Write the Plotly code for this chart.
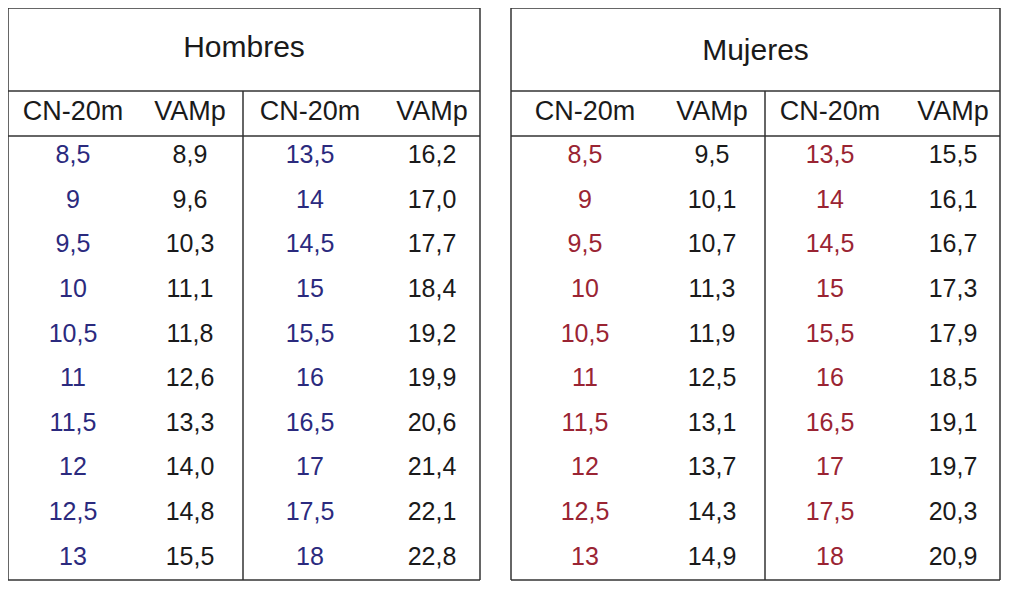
import plotly.graph_objects as go

FONT = "Liberation Sans, Arial, sans-serif"
BLUE = "#2b2a7e"
RED = "#9a2433"
INK = "#1a1a1a"

groups = ["Hombres", "Mujeres"]
col_labels = ["CN-20m", "VAMp", "CN-20m", "VAMp"]

cn_low = ["8,5", "9", "9,5", "10", "10,5", "11", "11,5", "12", "12,5", "13"]
cn_high = ["13,5", "14", "14,5", "15", "15,5", "16", "16,5", "17", "17,5", "18"]

hombres_vamp_low = ["8,9", "9,6", "10,3", "11,1", "11,8", "12,6", "13,3", "14,0", "14,8", "15,5"]
hombres_vamp_high = ["16,2", "17,0", "17,7", "18,4", "19,2", "19,9", "20,6", "21,4", "22,1", "22,8"]
mujeres_vamp_low = ["9,5", "10,1", "10,7", "11,3", "11,9", "12,5", "13,1", "13,7", "14,3", "14,9"]
mujeres_vamp_high = ["15,5", "16,1", "16,7", "17,3", "17,9", "18,5", "19,1", "19,7", "20,3", "20,9"]

# table geometry (pixel-like coordinates)
tables = [
    dict(name=groups[0], left=8, right=480, mid=243, cols=[73, 190, 310, 432], cn=BLUE,
         data=[cn_low, hombres_vamp_low, cn_high, hombres_vamp_high], title_y=49),
    dict(name=groups[1], left=511, right=1000, mid=765, cols=[585, 712, 830, 953], cn=RED,
         data=[cn_low, mujeres_vamp_low, cn_high, mujeres_vamp_high], title_y=52),
]
top, head_bot, sub_bot, bottom = 8, 91, 136, 580
row_y0, row_step = 157, 44.6
sub_y = 113

fig = go.Figure()
shapes = []
line = dict(color="#333333", width=1.5)
for t in tables:
    fig.add_trace(go.Scatter(x=[(t["left"] + t["right"]) / 2], y=[t["title_y"]], mode="text",
                             text=[t["name"]], textfont=dict(family=FONT, size=30, color=INK)))
    fig.add_trace(go.Scatter(x=t["cols"], y=[sub_y] * 4, mode="text", text=col_labels,
                             textfont=dict(family=FONT, size=27, color=INK)))
    for i, vals in enumerate(t["data"]):
        ys = [row_y0 + row_step * k for k in range(len(vals))]
        color = t["cn"] if i % 2 == 0 else INK
        fig.add_trace(go.Scatter(x=[t["cols"][i]] * len(vals), y=ys, mode="text", text=vals,
                                 textfont=dict(family=FONT, size=25, color=color)))
    for y in (top, head_bot, sub_bot, bottom):
        shapes.append(dict(type="line", x0=t["left"], x1=t["right"], y0=y, y1=y, line=line))
    for x in (t["left"], t["right"]):
        shapes.append(dict(type="line", x0=x, x1=x, y0=top, y1=bottom, line=line))
    shapes.append(dict(type="line", x0=t["mid"], x1=t["mid"], y0=head_bot, y1=bottom, line=line))

# page body adds an 8px offset, so the axis window is shifted to compensate
fig.update_layout(
    width=1009, height=591, margin=dict(l=0, r=0, t=0, b=0),
    paper_bgcolor="white", plot_bgcolor="white", showlegend=False, shapes=shapes,
    xaxis=dict(range=[8, 1017], visible=False),
    yaxis=dict(range=[599, 8], visible=False),
)
fig.write_html("out.html")
